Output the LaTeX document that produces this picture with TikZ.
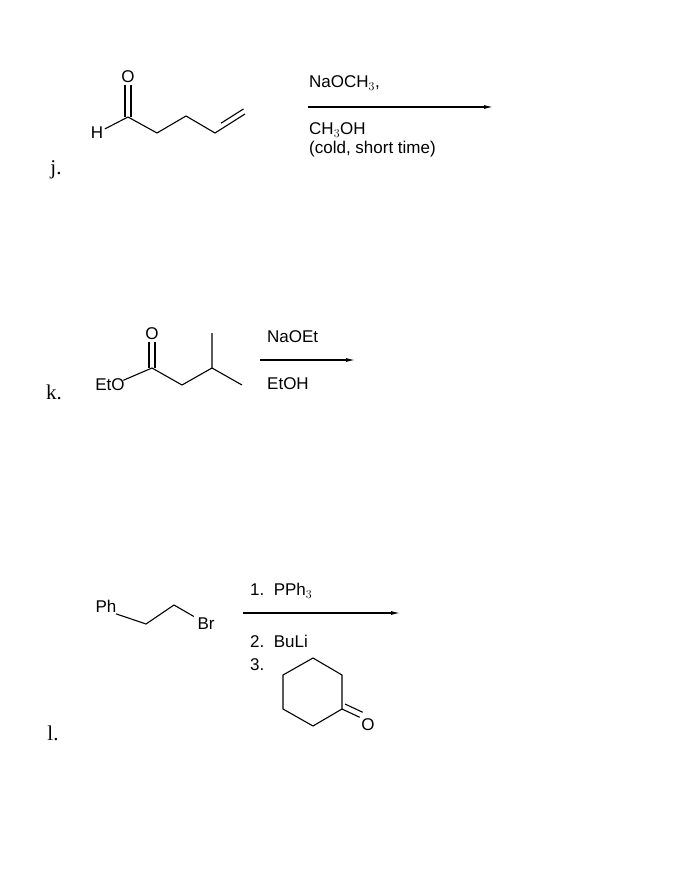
\documentclass[tikz,border=0pt]{standalone}
\usepackage{fontspec}
\setmainfont{Liberation Serif}
\newfontfamily\sansf{Liberation Sans}
\usetikzlibrary{arrows.meta,calc}
\begin{document}
\begin{tikzpicture}[x=1pt,y=-1pt,
  bond/.style={line width=1.1pt},
  atom/.style={font=\sansf\fontsize{17}{17}\selectfont,inner sep=1.5pt},
  reag/.style={font=\sansf\fontsize{17}{19}\selectfont,anchor=west,inner sep=0pt,align=left},
  lbl/.style={font=\fontsize{21}{21}\selectfont,inner sep=0pt},
  rxn/.style={line width=1.1pt,-{Latex[length=9pt,width=4pt]}}]
\useasboundingbox (0,0) rectangle (672,882);
% j
\node[lbl] (lj) at (56,170) {j.};
\node[atom] (jO) at (128,77) {O};
\node[atom] (jH) at (97,133) {H};
\coordinate (jC) at (128,117);
\coordinate (j1) at (157,133);
\coordinate (j2) at (186,116);
\coordinate (j3) at (215,133);
\coordinate (j4) at (245,114);
\draw[bond] ([xshift=-3pt]jO.south) -- ([xshift=-3pt]jC);
\draw[bond] ([xshift=3pt]jO.south) -- ([xshift=3pt]jC);
\draw[bond] (jH) -- (jC) -- (j1) -- (j2) -- (j3) -- (j4);
\draw[bond] ($(j3)!0.2!(j4)+(0,-6)$) -- ($(j3)!0.95!(j4)+(0,-6)$);
\coordinate (jA) at (308,107); \coordinate (jB) at (493,107);
\draw[rxn] (jA) -- (jB);
\node[reag] (jr1) at (309,83) {NaOCH$_3$,};
\node[reag] (jr2) at (309,140) {CH$_3$OH\\(cold, short time)};
% k
\node[lbl] (lk) at (54,392) {k.};
\node[atom] (kEt) at (110,385) {EtO};
\node[atom] (kO) at (152,334) {O};
\coordinate (kC) at (152,368);
\coordinate (k1) at (182,385);
\coordinate (k2) at (212,368);
\coordinate (k3) at (212,333);
\coordinate (k4) at (242,385);
\coordinate (kE) at ($(kEt.north east)+(-3,3)$);
\draw[bond] ([xshift=-3pt]kO.south) -- ([xshift=-3pt]kC);
\draw[bond] ([xshift=3pt]kO.south) -- ([xshift=3pt]kC);
\draw[bond] (kE) -- (kC) -- (k1) -- (k2) -- (k3);
\draw[bond] (k2) -- (k4);
\coordinate (kA) at (260,360); \coordinate (kB) at (355,360);
\draw[rxn] (kA) -- (kB);
\node[reag] (kr1) at (267,337) {NaOEt};
\node[reag] (kr2) at (267,384) {EtOH};
% l
\node[lbl] (ll) at (53,733) {l.};
\node[atom] (lPh) at (106,606) {Ph};
\node[atom] (lBr) at (206,624) {Br};
\coordinate (l1) at (146,624);
\coordinate (l2) at (174,605);
\coordinate (lP) at ($(lPh.south east)+(-2,0)$);
\draw[bond] (lP) -- (l1) -- (l2) -- ([xshift=-2pt]lBr.north west);
\coordinate (lA) at (243,613); \coordinate (lB) at (400,613);
\draw[rxn] (lA) -- (lB);
\node[reag] (lr1) at (250,591) {1.\ \ PPh$_3$};
\node[reag] (lr2) at (250,641) {2.\ \ BuLi};
\node[reag] (lr3) at (250,665) {3.};
\coordinate (h1) at (313,658);
\coordinate (h2) at (342,675);
\coordinate (h3) at (342,709);
\coordinate (h4) at (313,726);
\coordinate (h5) at (283,709);
\coordinate (h6) at (283,675);
\node[atom] (lO) at (368,725) {O};
\draw[bond] (h1) -- (h2) -- (h3) -- (h4) -- (h5) -- (h6) -- cycle;
\draw[bond] (h3) -- (lO.north west);
\draw[bond] ($(h3)+(3,-5)$) -- ($(lO.north west)+(3,-5)$);
\end{tikzpicture}
\end{document}
